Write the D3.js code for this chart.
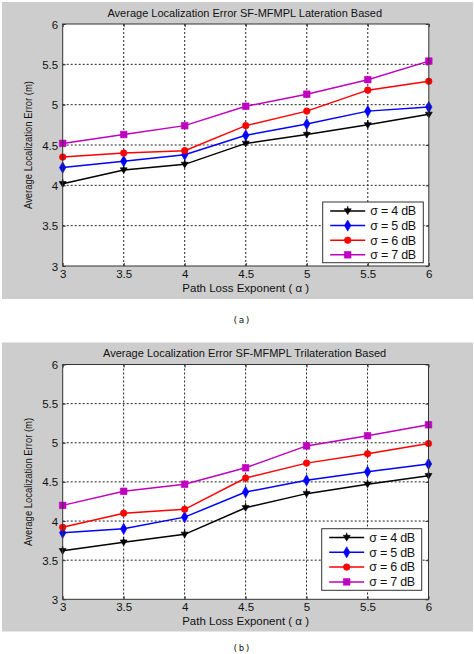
<!DOCTYPE html>
<html>
<head>
<meta charset="utf-8">
<script src="https://cdn.jsdelivr.net/npm/d3@7"></script>
<style>
  body { margin: 0; background: #fff; }
  text { font-family: "Liberation Sans", Arial, sans-serif; fill: #111; }
</style>
</head>
<body>
<svg id="chart" width="474" height="654"></svg>
<script>
// x axis: path loss exponent
const alphaValues = [3, 3.5, 4, 4.5, 5, 5.5, 6];
const yTicks = [3, 3.5, 4, 4.5, 5, 5.5, 6];
const seriesNames = ["σ = 4 dB", "σ = 5 dB", "σ = 6 dB", "σ = 7 dB"];
const seriesColors = ["#000000", "#0000ff", "#ff0000", "#bf00bf"];
const seriesMarkers = ["tri", "diamond", "circle", "square"];

// (a) lateration based
const lateration4 = [4.02, 4.19, 4.26, 4.52, 4.63, 4.75, 4.88];
const lateration5 = [4.22, 4.30, 4.38, 4.62, 4.76, 4.92, 4.97];
const lateration6 = [4.35, 4.40, 4.43, 4.74, 4.92, 5.18, 5.29];
const lateration7 = [4.52, 4.63, 4.74, 4.98, 5.13, 5.31, 5.54];

// (b) trilateration based
const trilateration4 = [3.62, 3.73, 3.83, 4.17, 4.35, 4.47, 4.58];
const trilateration5 = [3.85, 3.90, 4.05, 4.37, 4.52, 4.63, 4.73];
const trilateration6 = [3.92, 4.10, 4.15, 4.55, 4.74, 4.86, 4.99];
const trilateration7 = [4.20, 4.38, 4.47, 4.68, 4.96, 5.09, 5.23];

const panels = [
  {
    title: "Average Localization Error SF-MFMPL Lateration Based",
    caption: "(a)",
    series: [lateration4, lateration5, lateration6, lateration7],
    bg: [2, 2, 471, 297], plot: [62.7, 24, 428.8, 266],
    titleY: 13.5, xTickY: 275, xLabelY: 288, captionY: 320,
    legend: [322.7, 202, 100.6, 60.7], legendRow0: 9, legendStep: 14.6
  },
  {
    title: "Average Localization Error SF-MFMPL Trilateration Based",
    caption: "(b)",
    series: [trilateration4, trilateration5, trilateration6, trilateration7],
    bg: [2, 342.5, 471, 289], plot: [62.7, 364.5, 428.5, 599.3],
    titleY: 353.5, xTickY: 607.5, xLabelY: 621, captionY: 648,
    legend: [321.7, 528.7, 100, 61.6], legendRow0: 8.8, legendStep: 14.8
  }
];

const svg = d3.select("#chart");

function marker(sel, kind, color) {
  if (kind === "tri") {
    sel.append("path")
      .attr("d", "M-3.5,-2.2L3.5,-2.2L0,3.6Z M-0.6,-2.2L0,-4.8L0.6,-2.2Z")
      .attr("fill", color).attr("stroke", color).attr("stroke-width", 0.6);
  } else {
    const t = kind === "diamond" ? d3.symbolDiamond
      : kind === "circle" ? d3.symbolCircle : d3.symbolSquare;
    const size = kind === "diamond" ? 36 : kind === "circle" ? 34 : 44;
    sel.append("path")
      .attr("d", d3.symbol(t, size)())
      .attr("fill", color).attr("stroke", color).attr("stroke-width", 0.6);
  }
}

function drawPanel(p) {
  const g = svg.append("g");
  const [px0, py0, px1, py1] = p.plot;

  g.append("rect")
    .attr("x", p.bg[0]).attr("y", p.bg[1])
    .attr("width", p.bg[2]).attr("height", p.bg[3])
    .attr("fill", "#cdcdcd");

  g.append("rect")
    .attr("x", px0).attr("y", py0)
    .attr("width", px1 - px0).attr("height", py1 - py0)
    .attr("fill", "#fff");

  const x = d3.scaleLinear().domain([3, 6]).range([px0, px1]);
  const y = d3.scaleLinear().domain([3, 6]).range([py1, py0]);

  // dotted grid
  const grid = g.append("g")
    .attr("stroke", "#222").attr("stroke-width", 1)
    .attr("stroke-dasharray", "2,2");
  grid.selectAll("line.v").data(alphaValues.slice(1, -1)).join("line")
    .attr("x1", d => x(d)).attr("x2", d => x(d))
    .attr("y1", py0).attr("y2", py1);
  grid.selectAll("line.h").data(yTicks.slice(1, -1)).join("line")
    .attr("y1", d => y(d)).attr("y2", d => y(d))
    .attr("x1", px0).attr("x2", px1);

  // axes with inward ticks
  const xAxis = g.append("g")
    .attr("transform", `translate(0,${py1})`)
    .call(d3.axisBottom(x).tickValues(alphaValues).tickSize(-3).tickFormat(d3.format("")));
  const xTop = g.append("g")
    .attr("transform", `translate(0,${py0})`)
    .call(d3.axisTop(x).tickValues(alphaValues).tickSize(-3).tickFormat(""));
  const yAxis = g.append("g")
    .attr("transform", `translate(${px0},0)`)
    .call(d3.axisLeft(y).tickValues(yTicks).tickSize(-3).tickFormat(d3.format("")));
  const yRight = g.append("g")
    .attr("transform", `translate(${px1},0)`)
    .call(d3.axisRight(y).tickValues(yTicks).tickSize(-3).tickFormat(""));

  [xAxis, xTop, yAxis, yRight].forEach(a => {
    a.select(".domain").remove();
    a.selectAll(".tick line").attr("stroke", "#333");
  });
  xAxis.selectAll(".tick text")
    .attr("y", 0).attr("dy", null)
    .attr("transform", `translate(0,${p.xTickY - py1})`)
    .attr("dominant-baseline", "middle")
    .style("font-size", "11.5px").attr("fill", "#111");
  yAxis.selectAll(".tick text")
    .attr("x", -4.5).attr("dy", "0.35em")
    .style("font-size", "11.5px").attr("fill", "#111");

  // series
  p.series.forEach((vals, i) => {
    const pts = alphaValues.map((a, k) => [a, vals[k]]);
    g.append("path")
      .datum(pts)
      .attr("fill", "none")
      .attr("stroke", seriesColors[i])
      .attr("stroke-width", 1.5)
      .attr("d", d3.line().x(d => x(d[0])).y(d => y(d[1])));
    g.append("g").selectAll("g").data(pts).join("g")
      .attr("transform", d => `translate(${x(d[0])},${y(d[1])})`)
      .each(function () { marker(d3.select(this), seriesMarkers[i], seriesColors[i]); });
  });

  // frame
  g.append("rect")
    .attr("x", px0).attr("y", py0)
    .attr("width", px1 - px0).attr("height", py1 - py0)
    .attr("fill", "none").attr("stroke", "#333").attr("stroke-width", 1);

  // legend
  const [lx, ly, lw, lh] = p.legend;
  const leg = g.append("g").attr("transform", `translate(${lx},${ly})`);
  leg.append("rect")
    .attr("width", lw).attr("height", lh)
    .attr("fill", "#fff").attr("stroke", "#333").attr("stroke-width", 1);
  seriesNames.forEach((name, i) => {
    const row = leg.append("g")
      .attr("transform", `translate(0,${p.legendRow0 + i * p.legendStep})`);
    row.append("line")
      .attr("x1", 7.5).attr("x2", 42.5)
      .attr("stroke", seriesColors[i]).attr("stroke-width", 1.5);
    marker(row.append("g").attr("transform", "translate(25,0)"), seriesMarkers[i], seriesColors[i]);
    row.append("text")
      .attr("x", 47.5).attr("dy", "0.35em")
      .attr("textLength", 46).attr("lengthAdjust", "spacing")
      .style("font-size", "12.5px")
      .text(name);
  });

  // titles and labels
  g.append("text")
    .attr("x", (px0 + px1) / 2 - 1).attr("y", p.titleY).attr("dy", "0.35em")
    .attr("text-anchor", "middle")
    .style("font-size", "11px")
    .text(p.title);

  g.append("text")
    .attr("x", (px0 + px1) / 2).attr("y", p.xLabelY).attr("dy", "0.35em")
    .attr("text-anchor", "middle")
    .style("font-size", "11.5px")
    .text("Path Loss Exponent ( α )");

  g.append("text")
    .attr("transform", `translate(28,${(py0 + py1) / 2}) rotate(-90)`)
    .attr("dy", "0.35em")
    .attr("text-anchor", "middle")
    .attr("textLength", 128).attr("lengthAdjust", "spacingAndGlyphs")
    .style("font-size", "10.5px")
    .text("Average Localization Error (m)");

  g.append("text")
    .attr("x", 241.5).attr("y", p.captionY).attr("dy", "0.35em")
    .attr("text-anchor", "middle")
    .attr("textLength", 18).attr("lengthAdjust", "spacing")
    .style("font-family", "'DejaVu Sans Mono', monospace")
    .style("font-size", "9px")
    .text(p.caption);
}

panels.forEach(drawPanel);
</script>
</body>
</html>
